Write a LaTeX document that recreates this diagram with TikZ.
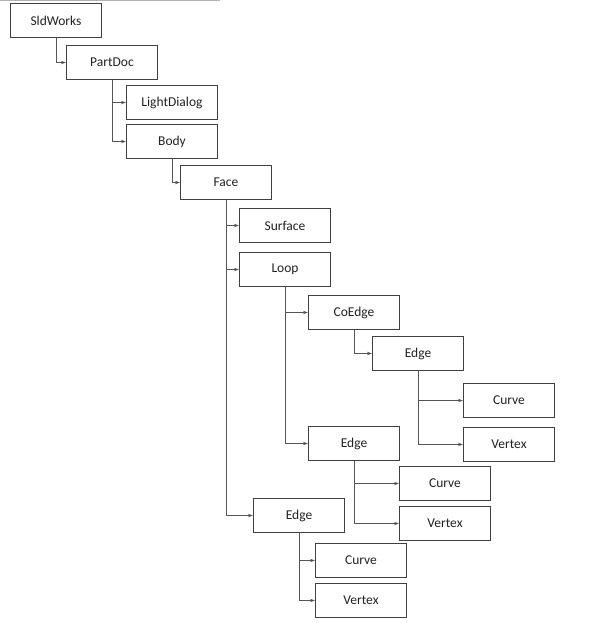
\documentclass[tikz,border=0pt]{standalone}
\usepackage{fontspec}
\setmainfont{Carlito}
\usetikzlibrary{arrows.meta}
\definecolor{boxline}{HTML}{404040}
\definecolor{conline}{HTML}{555555}
\definecolor{txt}{HTML}{222222}
\begin{document}
\begin{tikzpicture}[x=1pt,y=-1pt,
  objbox/.style={draw=boxline, line width=1.2pt, fill=white, minimum width=91pt, minimum height=34pt, inner sep=0pt, text=txt, font=\fontsize{13.5}{15}\selectfont},
  conn/.style={draw=conline, line width=1pt, -{Stealth[length=5pt,width=3.5pt]}}]
\useasboundingbox (0,0) rectangle (600,623);
\draw[color=black!30, line width=1pt] (0,0.8) -- (220,0.8);
\node[objbox] (sld) at (56,20.5) {SldWorks};
\node[objbox] (part) at (112,62.5) {PartDoc};
\node[objbox] (light) at (172,102.5) {LightDialog};
\node[objbox] (body) at (172,141.5) {Body};
\node[objbox] (face) at (226,182.5) {Face};
\node[objbox] (surf) at (285,225.5) {Surface};
\node[objbox] (loop) at (285,269.5) {Loop};
\node[objbox] (coedge) at (354,312.5) {CoEdge};
\node[objbox] (edgeA) at (418,353.5) {Edge};
\node[objbox] (curveA) at (509,400.5) {Curve};
\node[objbox] (vertexA) at (509,444.5) {Vertex};
\node[objbox] (edgeB) at (354,443.5) {Edge};
\node[objbox] (curveB) at (445,483.5) {Curve};
\node[objbox] (vertexB) at (445,523.5) {Vertex};
\node[objbox] (edgeC) at (299,515.5) {Edge};
\node[objbox] (curveC) at (361,560.5) {Curve};
\node[objbox] (vertexC) at (361,600.5) {Vertex};
\draw[conn] (sld.south) |- (part.west);
\draw[conn] (part.south) |- (light.west);
\draw[conn] (part.south) |- (body.west);
\draw[conn] (body.south) |- (face.west);
\draw[conn] (face.south) |- (surf.west);
\draw[conn] (face.south) |- (loop.west);
\draw[conn] (face.south) |- (edgeC.west);
\draw[conn] (loop.south) |- (coedge.west);
\draw[conn] (loop.south) |- (edgeB.west);
\draw[conn] (coedge.south) |- (edgeA.west);
\draw[conn] (edgeA.south) |- (curveA.west);
\draw[conn] (edgeA.south) |- (vertexA.west);
\draw[conn] (edgeB.south) |- (curveB.west);
\draw[conn] (edgeB.south) |- (vertexB.west);
\draw[conn] (edgeC.south) |- (curveC.west);
\draw[conn] (edgeC.south) |- (vertexC.west);
\end{tikzpicture}
\end{document}
